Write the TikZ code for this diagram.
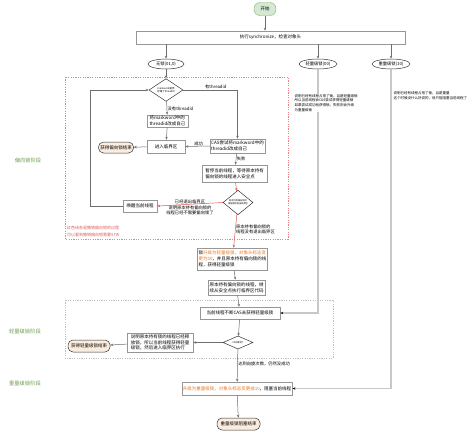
\documentclass[tikz,border=0pt]{standalone}
\usepackage{fontspec}
\setmainfont{Noto Sans CJK SC}
\usetikzlibrary{shapes.geometric,arrows.meta,calc}
\definecolor{lnc}{RGB}{110,110,110}
\definecolor{boxd}{RGB}{150,150,150}
\definecolor{termf}{RGB}{250,237,224}
\definecolor{startf}{RGB}{213,232,212}
\definecolor{startd}{RGB}{130,179,102}
\definecolor{stagec}{RGB}{110,160,80}
\definecolor{redc}{RGB}{226,90,90}
\definecolor{pinkc}{RGB}{238,130,130}
\definecolor{orc}{RGB}{230,120,40}
\definecolor{lightl}{RGB}{200,200,200}
\tikzset{
  box/.style={draw=boxd, fill=white, line width=0.5pt, inner sep=1pt, align=center, font=\fontsize{4.5}{5.8}\selectfont},
  term/.style={draw=black!80, fill=termf, rounded corners=5pt, line width=0.5pt, inner sep=1pt, font=\fontsize{4.5}{5.8}\selectfont},
  ell/.style={ellipse, draw=black!80, fill=white, line width=0.5pt, inner sep=0pt, font=\fontsize{4.3}{5.5}\selectfont},
  dia/.style={diamond, draw=black!80, fill=white, line width=0.5pt, inner sep=0pt, align=center},
  arr/.style={draw=lnc, line width=0.5pt, -{Stealth[length=3pt,width=2.4pt]}},
  rarr/.style={draw=redc, line width=0.5pt, -{Stealth[length=3pt,width=2.4pt]}},
  lthick/.style={draw=lightl, line width=1.4pt, -{Stealth[length=3pt,width=2.4pt,black]}},
  lbl/.style={inner sep=0.5pt, font=\fontsize{4.3}{5.5}\selectfont, align=left},
  stage/.style={text=stagec, font=\fontsize{5.3}{6}\selectfont},
  ann/.style={fill=white, inner sep=0.5pt, align=left, font=\fontsize{3.5}{4.8}\selectfont}
}
\begin{document}
\begin{tikzpicture}[x=1pt,y=-1pt]
\useasboundingbox[fill=white] (0,0) rectangle (474,440);

% stage boxes
\draw[draw=pinkc, line width=0.6pt, dash pattern=on 1.2pt off 1.2pt] (65,77) rectangle (288,239);
\draw[draw=black!25, line width=0.6pt, dash pattern=on 1.2pt off 1.2pt] (65,300) rectangle (333,358);
\node[stage] (s1) at (28,160) {偏向锁阶段};
\node[stage] (s2) at (25,331) {轻量级锁阶段};
\node[stage] (s3) at (25,383) {重量级锁阶段};
\node[anchor=west, text=redc, align=left, inner sep=0pt, font=\fontsize{4}{7}\selectfont] (rt) at (67,231.5) {红色线条是撤销偏向锁的过程\\可以看到撤销偏向锁需要STW};

% top
\node[draw=startd, fill=startf, rounded corners=6pt, minimum width=22pt, minimum height=13pt, inner sep=0pt, font=\fontsize{4.5}{5.5}\selectfont] (start) at (265,9) {开始};
\node[box, minimum width=269pt, minimum height=13pt] (sync) at (270.5,37.5) {执行synchronize，检查对象头};
\node[ell, minimum width=36pt, minimum height=10pt] (nolock) at (166,64) {无锁(01,0)};
\node[ell, minimum width=38pt, minimum height=10pt] (light) at (318,64) {轻量级锁(00)};
\node[ell, minimum width=38pt, minimum height=10pt] (heavy) at (391,64) {重量级锁(10)};

\draw[arr] (start) -- (sync.north -| start);
\draw[arr] (sync.south -| nolock) -- (nolock);
\draw[arr] (sync.south -| light) -- (light);
\draw[arr] (sync.south -| heavy) -- (heavy);

% bias stage
\node[dia, minimum width=34pt, minimum height=15pt, font=\fontsize{2.5}{3}\selectfont] (d1) at (166,90) {markword是否\\存储了threadid};
\node[box, minimum width=41pt, minimum height=12pt, align=left] (mw) at (167.5,121) {将markword中的\\threadid改成自己};
\node[box, minimum width=38pt, minimum height=13pt] (enter) at (166,146.5) {进入临界区};
\node[term, minimum width=35pt, minimum height=11pt] (bend) at (116,147.5) {获得偏向锁结束};
\node[box, minimum width=55pt, minimum height=14pt, align=left] (cas) at (237.5,146) {CAS尝试将markword中的\\threadid改成自己};
\node[box, minimum width=65pt, minimum height=17pt, align=left] (pause) at (234.5,173.5) {暂停当前线程，等待原本持有\\偏向锁的线程进入安全点};
\node[dia, minimum width=30pt, minimum height=15pt, font=\fontsize{2.2}{2.7}\selectfont] (d2) at (238,202.5) {原本持有偏向锁的\\线程是否退出临界区};
\node[box, minimum width=34pt, minimum height=12pt] (wake) at (140,206) {唤醒当前线程};

\draw[arr] (nolock) -- (d1);
\draw[arr] (d1.east) -| node[lbl, pos=0.3, above] {有threadid} (cas.north);
\draw[arr] (d1) -- node[lbl, right, pos=0.55] {没有threadid} (mw);
\draw[arr] (mw) -- (enter);
\draw[arr] (enter) -- (bend);
\draw[arr] (cas.west) -- node[lbl, above, pos=0.45] {成功} (enter.east);
\draw[arr] (cas) -- node[lbl, right, pos=0.45] {失败} (pause);
\draw[rarr] (pause) -- (d2);
\draw[rarr] (d2.west) -- node[lbl, above, pos=0.5] {已经退出临界区} node[lbl, below, pos=0.5, align=center, yshift=-0.5pt] {说明原本持有偏向锁的\\线程已经不需要偏向锁了} (wake.east);
\coordinate (wl) at (90,206);
\draw[arr] (wake.west) -- (wl) |- (d1.west);

% lightweight
\node[box, minimum width=61pt, minimum height=22pt, align=left] (up) at (232.5,259) {锁\textcolor{orc}{升级为轻量级锁，对象头标志变}\\\textcolor{orc}{更为00}，并且原本持有偏向锁的线\\程，获得轻量级锁};
\node[box, minimum width=57pt, minimum height=15pt, align=left] (cont) at (236.5,287.5) {原本持有偏向锁的线程，继\\续从安全点执行临界区代码};
\node[box, minimum width=80pt, minimum height=12pt] (cas2) at (240,313) {当前线程不断CAS去获得轻量级锁};
\node[dia, minimum width=30pt, minimum height=11pt, font=\fontsize{2.5}{3}\selectfont] (d3) at (238,342.5) {CAS成功?};
\node[box, minimum width=66pt, minimum height=19pt, align=left] (expl) at (160,342.5) {说明原本持有锁的线程已经释\\放锁，所以当前线程获得轻量\\级锁，然后进入临界区执行};
\node[term, minimum width=42pt, minimum height=12pt] (lend) at (89,346) {获得轻量级锁结束};

\draw[rarr] (d2) -- node[lbl, right, pos=0.45] {原本持有偏向锁的\\线程没有退出临界区} (up);
\draw[arr] (up) -- (cont);
\draw[arr] (cont) -- (cas2);
\draw[arr] (cas2) -- (d3);
\draw[arr] (d3) -- (expl);
\draw[arr] (expl) -- (lend);

% heavyweight
\node[box, minimum width=110pt, minimum height=13pt] (hv) at (237,388.5) {\textcolor{orc}{升级为重量级锁，对象头标志变更成10}，阻塞当前线程};
\node[term, minimum width=43pt, minimum height=12pt] (hend) at (238.5,424) {重量级锁阻塞结束};
\draw[arr] (d3) -- node[lbl, right, pos=0.45] {达到自旋次数，仍然没成功} (hv);
\draw[arr] (hv) -- (hend);

% side lines
\coordinate (lc) at (318,313);
\coordinate (hc) at (391,388.5);
\draw[lthick] (light) -- (lc) -- (cas2.east);
\draw[lthick] (heavy) -- (hc) -- (hv.east);
\node[ann] (a1) at (326,103) {说明已经有线程占用了锁，且是轻量级锁\\所以当前线程会CAS尝试获得轻量级锁\\如果尝试成功就获得锁，失败则会升级\\为重量级锁};
\node[ann, anchor=west] (a2) at (393,96) {说明已经有线程占用了锁，且是重量\\这个时候没什么好说的，就只能阻塞当前线程了};
\end{tikzpicture}
\end{document}
